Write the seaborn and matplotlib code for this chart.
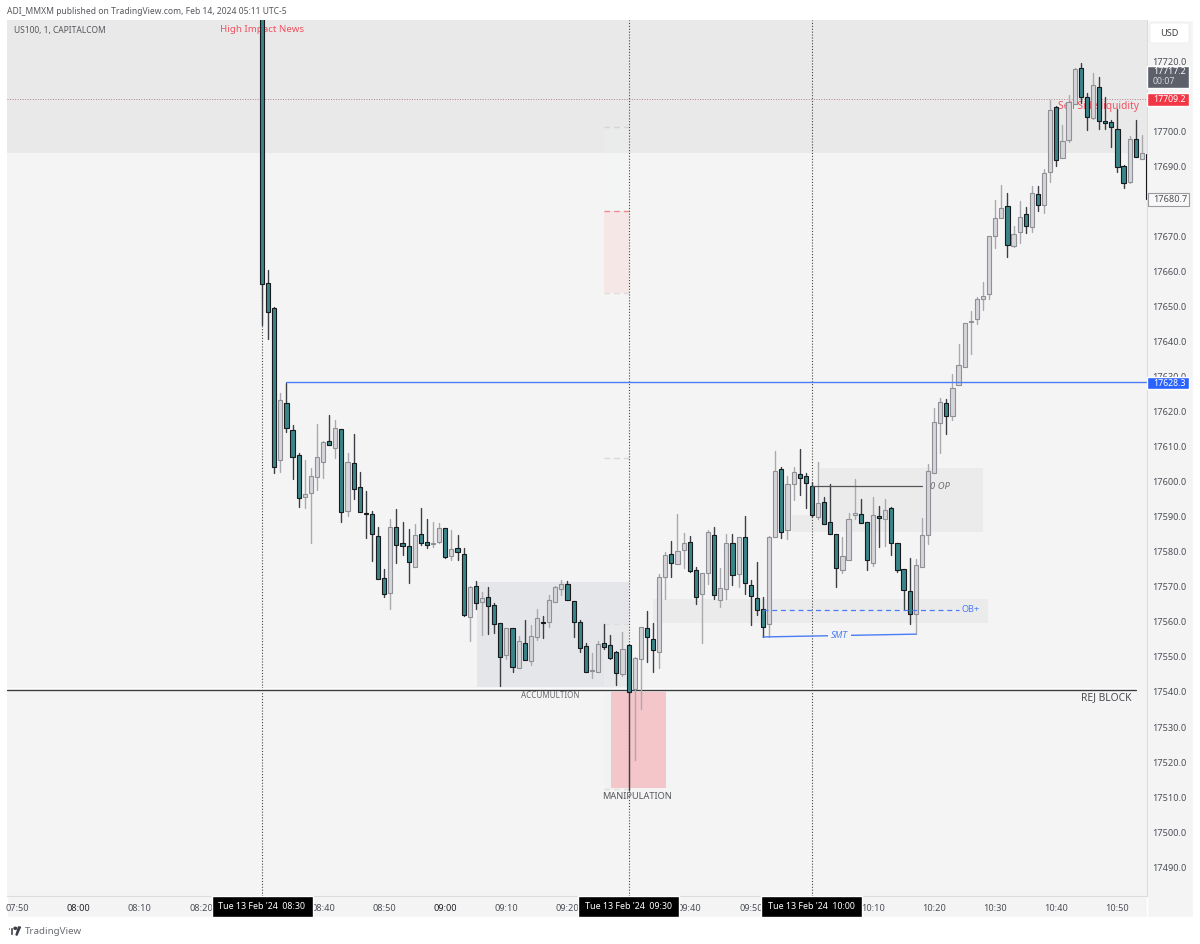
import matplotlib
matplotlib.use('Agg')
import matplotlib.pyplot as plt
from matplotlib.patches import Rectangle, FancyBboxPatch, Polygon, Circle
import pandas as pd
import seaborn as sns

# minute bars, US100 1m, 08:30 onwards
start_minute = 510

opens = [17752.0, 17656.6, 17649.5, 17606.2, 17622.4, 17614.7, 17607.7, 17595.6, 17596.8, 17601.3,
         17605.6, 17611.6, 17609.6, 17615.0, 17591.6, 17605.3, 17598.5, 17591.2, 17590.8, 17584.5,
         17572.5, 17568.2, 17587.0, 17582.5, 17581.7, 17575.6, 17585.1, 17582.8, 17582.2, 17582.8,
         17586.8, 17578.8, 17581.0, 17579.5, 17561.4, 17570.2, 17565.6, 17567.1, 17564.8, 17559.6,
         17550.5, 17558.3, 17546.8, 17553.9, 17548.8, 17555.7, 17560.1, 17560.0, 17565.6, 17569.4,
         17570.7, 17565.9, 17560.0, 17553.1, 17545.9, 17545.6, 17553.9, 17553.4, 17551.4, 17545.0,
         17553.4, 17540.9, 17549.4, 17558.3, 17555.1, 17551.4, 17572.8, 17579.5, 17576.5, 17580.5,
         17582.8, 17574.8, 17567.9, 17573.9, 17584.8, 17566.2, 17569.4, 17582.5, 17573.6, 17584.2,
         17570.5, 17566.8, 17563.6, 17559.4, 17584.2, 17603.6, 17586.2, 17599.3, 17602.2, 17601.6,
         17598.8, 17590.0, 17594.2, 17588.5, 17585.1, 17574.8, 17577.6, 17590.5, 17590.7, 17588.5,
         17576.8, 17590.2, 17589.4, 17592.5, 17582.5, 17575.1, 17568.8, 17562.2, 17575.6, 17584.8,
         17602.5, 17616.7, 17622.4, 17618.7, 17627.5, 17632.7, 17645.5, 17646.4, 17652.1, 17653.6,
         17670.1, 17675.2, 17678.6, 17667.2, 17671.2, 17676.4, 17672.6, 17682.0, 17678.9, 17688.3,
         17706.9, 17692.3, 17697.5, 17707.7, 17718.0, 17709.7, 17703.7, 17712.6, 17702.8, 17702.6,
         17700.6, 17690.0, 17685.5, 17697.8, 17692.0, 17693.4]
highs = [17756.0, 17660.4, 17649.9, 17625.3, 17628.1, 17616.1, 17608.2, 17606.2, 17603.9, 17616.4,
         17611.6, 17619.0, 17617.6, 17615.0, 17608.2, 17613.6, 17602.8, 17597.3, 17591.6, 17587.0,
         17575.1, 17589.4, 17592.2, 17588.5, 17586.5, 17587.9, 17592.5, 17589.4, 17588.5, 17588.2,
         17586.8, 17586.2, 17584.8, 17581.2, 17570.2, 17571.6, 17568.5, 17569.9, 17565.3, 17559.6,
         17558.3, 17558.3, 17556.0, 17560.5, 17559.1, 17563.6, 17561.7, 17567.7, 17570.2, 17571.9,
         17571.6, 17565.9, 17560.5, 17553.9, 17551.1, 17554.5, 17559.4, 17556.2, 17551.7, 17557.1,
         17553.7, 17550.0, 17558.5, 17563.1, 17559.6, 17573.6, 17579.9, 17583.0, 17590.7, 17585.3,
         17584.5, 17575.6, 17573.9, 17586.2, 17587.0, 17575.4, 17585.1, 17585.1, 17584.2, 17590.2,
         17571.9, 17577.0, 17567.1, 17584.5, 17608.7, 17604.2, 17601.6, 17604.2, 17609.3, 17602.5,
         17600.0, 17605.6, 17595.6, 17599.3, 17585.1, 17584.2, 17591.0, 17600.7, 17595.1, 17588.5,
         17595.6, 17593.0, 17595.1, 17592.8, 17582.5, 17575.1, 17578.2, 17577.9, 17589.6, 17605.0,
         17621.0, 17623.9, 17623.6, 17630.7, 17639.3, 17645.2, 17648.7, 17652.7, 17657.0, 17670.1,
         17680.3, 17684.6, 17682.3, 17672.9, 17680.0, 17678.3, 17684.3, 17684.3, 17689.2, 17708.9,
         17707.2, 17701.7, 17710.3, 17718.0, 17719.4, 17710.9, 17716.6, 17715.4, 17709.7, 17703.2,
         17706.3, 17690.4, 17698.6, 17703.2, 17698.9, 17693.4]
lows = [17644.7, 17640.7, 17602.5, 17602.8, 17614.1, 17600.7, 17592.9, 17592.6, 17582.5, 17597.6,
        17601.0, 17610.4, 17606.8, 17588.5, 17590.2, 17595.0, 17591.3, 17584.0, 17577.3, 17572.2,
        17567.1, 17563.6, 17576.8, 17579.0, 17571.1, 17575.6, 17582.0, 17581.1, 17581.4, 17582.5,
        17578.2, 17577.6, 17577.6, 17561.7, 17554.5, 17563.6, 17556.3, 17556.5, 17556.8, 17541.7,
        17549.4, 17545.7, 17546.8, 17549.1, 17547.6, 17554.8, 17555.4, 17558.5, 17565.6, 17567.6,
        17566.2, 17555.7, 17551.4, 17545.6, 17544.0, 17545.6, 17552.2, 17549.4, 17541.9, 17544.7,
        17512.0, 17520.5, 17535.1, 17548.5, 17545.6, 17546.8, 17566.5, 17572.8, 17576.5, 17575.4,
        17574.2, 17565.0, 17554.0, 17570.8, 17566.5, 17564.2, 17566.5, 17570.5, 17570.0, 17568.0,
        17559.1, 17562.0, 17555.7, 17555.7, 17584.2, 17584.0, 17583.6, 17594.8, 17596.2, 17592.5,
        17590.0, 17589.4, 17587.9, 17585.1, 17570.0, 17573.9, 17577.6, 17589.4, 17588.2, 17574.8,
        17576.0, 17581.4, 17581.7, 17579.1, 17574.2, 17563.6, 17559.4, 17556.5, 17575.6, 17582.2,
        17602.5, 17608.1, 17613.6, 17617.6, 17627.5, 17632.7, 17636.4, 17644.9, 17649.0, 17652.1,
        17666.6, 17675.2, 17664.1, 17666.9, 17668.1, 17670.9, 17671.2, 17677.2, 17676.6, 17685.4,
        17690.0, 17692.3, 17696.9, 17707.7, 17708.0, 17700.3, 17703.4, 17700.6, 17700.6, 17695.5,
        17688.3, 17683.8, 17685.2, 17692.6, 17692.0, 17680.7]
closes = [17656.3, 17648.4, 17604.2, 17623.3, 17615.3, 17607.1, 17595.3, 17596.4, 17601.6, 17607.1,
          17611.3, 17610.4, 17615.3, 17591.3, 17605.6, 17597.9, 17591.3, 17590.9, 17585.1, 17572.2,
          17568.0, 17587.0, 17582.0, 17581.7, 17577.0, 17584.8, 17582.5, 17582.0, 17582.5, 17586.8,
          17578.5, 17580.8, 17579.8, 17562.0, 17570.0, 17565.3, 17566.8, 17564.5, 17559.4, 17550.0,
          17558.3, 17547.0, 17554.5, 17549.1, 17556.0, 17561.1, 17559.8, 17566.2, 17570.0, 17570.9,
          17566.2, 17560.0, 17552.5, 17545.6, 17546.2, 17553.7, 17552.8, 17549.7, 17545.3, 17552.2,
          17540.0, 17549.7, 17558.5, 17555.7, 17551.9, 17572.8, 17579.0, 17576.8, 17580.2, 17582.5,
          17574.5, 17567.1, 17573.9, 17585.6, 17567.6, 17569.6, 17582.5, 17573.3, 17584.2, 17571.0,
          17567.4, 17563.4, 17558.5, 17584.2, 17603.0, 17585.6, 17599.3, 17602.8, 17601.0, 17599.6,
          17590.5, 17593.9, 17587.9, 17585.1, 17575.4, 17578.8, 17589.4, 17591.0, 17588.2, 17577.6,
          17590.5, 17589.6, 17591.9, 17582.5, 17574.8, 17569.1, 17562.2, 17576.2, 17584.8, 17603.0,
          17617.0, 17622.7, 17618.7, 17626.7, 17633.3, 17645.2, 17645.8, 17652.1, 17653.0, 17670.1,
          17675.2, 17678.1, 17667.5, 17670.7, 17675.5, 17672.9, 17682.3, 17678.9, 17688.0, 17706.0,
          17691.8, 17697.2, 17708.3, 17717.7, 17709.7, 17704.0, 17713.1, 17702.9, 17702.4, 17701.2,
          17689.8, 17685.2, 17697.8, 17692.6, 17693.7, 17680.7]

price_ticks = list(range(17490, 17721, 10))
hidden_prices = [17680, 17710]  # under the price tags
time_ticks = list(range(470, 651, 10))
# 08:30, 09:30 and 10:00 sit under the black time tags
time_labels = ['07:50', '08:00', '08:10', '08:20', '', '08:40', '08:50', '09:00', '09:10', '09:20',
               '', '09:40', '09:50', '', '10:10', '10:20', '10:30', '10:40', '10:50']
event_minutes = [510, 570, 600]
event_labels = ["Tue 13 Feb '24  08:30", "Tue 13 Feb '24  09:30", "Tue 13 Feb '24  10:00"]

W, H = 1200, 944
GREY_TXT = '#4c4f57'
RED = '#ef5362'
BLUE = '#4a7df5'

sns.set_theme(style='white')
plt.rcParams['font.family'] = ['Noto Sans', 'DejaVu Sans']
plt.rcParams['axes.unicode_minus'] = False

df = pd.DataFrame({'open': opens, 'high': highs, 'low': lows, 'close': closes})
df['minute'] = start_minute + df.index
df['falling'] = df['close'] < df['open']


def px_rect(x0, y0, x1, y1, color, z=5, **kw):
    fig.add_artist(Rectangle((x0 / W, 1 - y1 / H), (x1 - x0) / W, (y1 - y0) / H,
                             transform=fig.transFigure, facecolor=color, zorder=z, **kw))


def px_text(x, y, s, z=6, **kw):
    fig.text(x / W, 1 - y / H, s, zorder=z, va='center', **kw)


fig = plt.figure(figsize=(W / 100, H / 100), dpi=100, facecolor='white')
ax = fig.add_axes([7 / W, 1 - 896 / H, 1140 / W, 876 / H], facecolor='#f4f4f4')

# panels around the plot
px_rect(1147, 20, 1193, 917, '#f4f4f4', z=-1)
px_rect(7, 896, 1147, 917, '#f4f4f4', z=-1)

# shaded zones
ax.axhspan(17693.75, 17740, color='#e9e9e9', lw=0, zorder=0.2)
ax.fill_betweenx([17541.4, 17571.4], 545.2, 570, color='#e5e6e9', lw=0, zorder=0.3)
ax.fill_betweenx([17559.7, 17566.5], 574, 628.8, color='#ebebec', lw=0, zorder=0.3)
ax.fill_betweenx([17585.6, 17603.9], 601.3, 628, color='#ebebec', lw=0, zorder=0.3)
ax.fill_betweenx([17585.6, 17590.5], 596.7, 601.3, color='#ebebec', lw=0, zorder=0.3)
ax.fill_betweenx([17653.8, 17677.3], 566, 570, color='#f6e7e7', lw=0, zorder=0.3)
ax.fill_betweenx([17677.3, 17693.75], 566, 570, color='#f3f4f4', lw=0, zorder=0.3)
ax.fill_betweenx([17693.75, 17701.2], 566, 570, color='#eaecec', lw=0, zorder=0.3)
ax.fill_betweenx([17541.4, 17559.4], 566, 570, color='#e8e9eb', lw=0, zorder=0.3)
ax.fill_betweenx([17512.3, 17541.4], 566, 570, color='#f1f2f2', lw=0, zorder=0.3)
ax.fill_betweenx([17512.6, 17540.3], 567.1, 576.1, color='#f4c5c9', lw=0, zorder=0.4)

# little dashes left by the position tool
for price, col in [(17701.2, '#d4d4d4'), (17677.3, '#ef8a93'), (17653.8, '#dcdcdc'),
                   (17606.7, '#d8d8d8'), (17559.4, '#dedede'), (17512.3, '#dedede')]:
    ax.plot([566, 570], [price, price], color=col, lw=1, ls=(0, (4, 3)), zorder=0.5)

# event lines
for m in event_minutes:
    ax.axvline(m, color='#444444', lw=0.8, ls=(0, (1, 1.6)), zorder=1)
ax.axhline(17709.2, color='#b5808a', lw=0.7, ls=(0, (1, 1.6)), zorder=1)

# text sits under the candles in the original
ax.text(510, 17729.1, 'High Impact News', color=RED, fontsize=7.0, ha='center', va='center', zorder=1.5)
ax.text(640.3, 17706.9, 'Sell Side liquidity', color=RED, fontsize=7.4, ha='left', va='center', zorder=1.5)

# wicks
wicks = df.melt(id_vars=['minute', 'falling'], value_vars=['high', 'low'], value_name='price')
sns.lineplot(data=wicks, x='minute', y='price', units='minute', hue='falling', estimator=None,
             palette={True: '#3c3f44', False: '#a9a9ae'}, lw=1.0, legend=False, ax=ax, zorder=3)

# bodies
for falling, face, edge in [(False, '#d6d6da', '#8f8f96'), (True, '#39858a', '#17191c')]:
    part = df[df['falling'] == falling]
    ax.bar(part['minute'], (part['open'] - part['close']).abs(),
           bottom=part[['open', 'close']].min(axis=1), width=0.68,
           color=face, edgecolor=edge, lw=0.8, zorder=3.2)

# levels and drawings
ax.plot([514, 654.84], [17628.3, 17628.3], color=BLUE, lw=1.0, zorder=4)
ax.plot([468.2, 653], [17540.7, 17540.7], color='white', lw=2.6, zorder=2.8)
ax.plot([468.2, 653], [17540.7, 17540.7], color='#3a3a3d', lw=1.0, zorder=2.9)
ax.plot([600, 618], [17598.7, 17598.7], color='#55565a', lw=0.9, zorder=4)
ax.plot([592, 624], [17563.5, 17563.5], color=BLUE, lw=0.9, ls=(0, (4, 3)), zorder=4)
ax.plot([592, 617], [17555.7, 17556.5], color=BLUE, lw=1.0, zorder=4)

ax.text(571.4, 17510.2, 'MANIPULATION', color='#55575c', fontsize=6.65, ha='center', va='center', zorder=5)
ax.text(557.1, 17539.1, 'ACCUMULTION', color='#66686d', fontsize=5.8, ha='center', va='center', zorder=5)
ax.text(652.3, 17538.5, 'REJ BLOCK', color='#4a4c52', fontsize=7.4, ha='right', va='center', zorder=5)
ax.text(626, 17563.5, 'OB+', color=BLUE, fontsize=6.6, ha='center', va='center', zorder=5)
ax.text(604.5, 17556.1, 'SMT', color=BLUE, fontsize=6.6, style='italic', ha='center', va='center', zorder=5,
        bbox=dict(facecolor='#f4f4f4', edgecolor='none', pad=2.2))
ax.text(619.4, 17598.7, '0 OP', color='#6d6f75', fontsize=6.8, style='italic', ha='left', va='center', zorder=5)

# axes
ax.set_xlim(468.27, 654.84)
ax.set_ylim(17481.8, 17731.7)
ax.set_xticks(time_ticks)
ax.set_xticklabels(time_labels)
ax.yaxis.tick_right()
ax.set_yticks(price_ticks)
ax.set_yticklabels(['' if p in hidden_prices else f'{p:.1f}' for p in price_ticks])
ax.tick_params(axis='x', length=0, pad=5.5, labelsize=6.6, labelcolor=GREY_TXT)
ax.tick_params(axis='y', length=0, pad=4, labelsize=6.6, labelcolor=GREY_TXT)
for lab, txt in zip(ax.get_xticklabels(), time_labels):
    if txt in ('08:00', '09:00'):
        lab.set_fontweight('bold')
        lab.set_color('#1f2126')
ax.set_xlabel('')
ax.set_ylabel('')
for name, spine in ax.spines.items():
    spine.set_visible(name in ('right', 'bottom'))
    spine.set_color('#dcdcdc')
    spine.set_linewidth(0.8)

# time tags
for m, label in zip(event_minutes, event_labels):
    cx = 262 + (m - 510) * 6.11
    px_rect(cx - 50.5, 896, cx + 50.5, 917, '#000000')
    px_text(cx, 906.5, label, color='white', fontsize=6.4, ha='center')

# price tags
px_rect(1147, 66, 1189, 88, '#5d606b')
px_text(1153, 71.5, '17717.2', color='white', fontsize=6.3, fontweight='bold')
px_text(1153, 82, '00:07', color='#d6d7dc', fontsize=6.4)
px_rect(1147, 93, 1189, 106, '#f23645')
px_text(1153, 99.5, '17709.2', color='white', fontsize=6.3, fontweight='bold')
px_rect(1147.5, 193, 1189, 206, '#f8f8f8', edgecolor='#9a9a9f', lw=0.8)
px_text(1153, 199.5, '17680.7', color=GREY_TXT, fontsize=6.6)
px_rect(1147, 377, 1189, 389, '#2962ff')
px_text(1153, 383, '17628.3', color='white', fontsize=6.3, fontweight='bold')

fig.add_artist(FancyBboxPatch((1150 / W, 1 - 43 / H), 39 / W, 20 / H, transform=fig.transFigure,
                              boxstyle='round,pad=0,rounding_size=0.003', mutation_aspect=H / W,
                              facecolor='white', edgecolor='#eeeeee', lw=0.6, zorder=5))
px_text(1169.5, 33, 'USD', color='#3c3f46', fontsize=6.6, ha='center')

# header and footer
px_text(7, 11, 'ADI_MMXM published on TradingView.com, Feb 14, 2024 05:11 UTC-5', color='#55575c', fontsize=6.15)
px_text(13.5, 31, 'US100, 1, CAPITALCOM', color='#55575c', fontsize=6.1)
px_text(25, 931, 'TradingView', color='#6b6d73', fontsize=7)

# logo
px_rect(7.5, 927, 14, 929.5, '#3c3f46')
px_rect(10, 927, 12.5, 935, '#3c3f46')
fig.add_artist(Circle((15.3 / W, 1 - 928.3 / H), 1.3 / W, transform=fig.transFigure, color='#3c3f46', zorder=5))
fig.add_artist(Polygon([(16 / W, 1 - 935 / H), (17 / W, 1 - 935 / H), (20.5 / W, 1 - 927 / H), (18.5 / W, 1 - 927 / H)],
                       transform=fig.transFigure, color='#3c3f46', zorder=5))

fig.savefig('out.png', dpi=100)
